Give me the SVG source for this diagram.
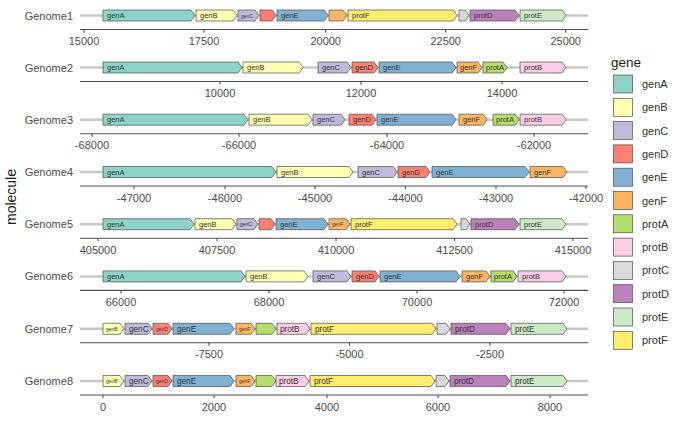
<svg xmlns="http://www.w3.org/2000/svg" width="688" height="422" viewBox="0 0 688 422">
<style>
text{font-family:"Liberation Sans",Arial,sans-serif}
.bg{stroke:#c8c8c8;stroke-width:2.5}
.ax{stroke:#4d4d4d;stroke-width:1.1}
.tk{stroke:#4d4d4d;stroke-width:1.1}
.tl{font-size:11px;fill:#4d4d4d;text-anchor:middle}
.gl{font-size:11px;fill:#4d4d4d;text-anchor:end}
.g polygon{stroke:#4d4d4d;stroke-width:0.7}
.lb{font-size:7.5px;fill:#333}
.lb8{font-size:8.2px;fill:#333}
.sm{font-size:5px;fill:#333}
.A{fill:#8DD3C7}.B{fill:#FFFFB3}.C{fill:#BEBADA}.D{fill:#FB8072}.E{fill:#80B1D3}.F{fill:#FDB462}
.pA{fill:#B3DE69}.pB{fill:#FCCDE5}.pC{fill:#D9D9D9}.pD{fill:#BC80BD}.pE{fill:#CCEBC5}.pF{fill:#FFED6F}
.key rect{stroke:#4d4d4d;stroke-width:0.7}
.kl{font-size:11px;fill:#333}
</style>
<rect width="688" height="422" fill="#fff"/>
<text transform="translate(16,197) rotate(-90)" font-size="14" text-anchor="middle" fill="#1a1a1a">molecule</text>

<g id="Genome1" class="g" transform="translate(0,15.5)">
<text class="gl" x="73" y="4">Genome1</text>
<line class="bg" x1="80" y1="0" x2="588" y2="0"/>
<line class="ax" x1="80" y1="14" x2="588" y2="14"/>
<g class="tk"><line x1="84" y1="14" x2="84" y2="17"/><line x1="204" y1="14" x2="204" y2="17"/><line x1="325.7" y1="14" x2="325.7" y2="17"/><line x1="445.7" y1="14" x2="445.7" y2="17"/><line x1="565.7" y1="14" x2="565.7" y2="17"/></g>
<text class="tl" x="84" y="29.5">15000</text><text class="tl" x="204" y="29.5">17500</text><text class="tl" x="325.7" y="29.5">20000</text><text class="tl" x="445.7" y="29.5">22500</text><text class="tl" x="565.7" y="29.5">25000</text>
<polygon class="A" points="103,-5.5 191,-5.5 195,0 191,5.5 103,5.5"/>
<polygon class="B" points="196,-5.5 233,-5.5 237,0 233,5.5 196,5.5"/>
<polygon class="C" points="238,-5.5 255,-5.5 259,0 255,5.5 238,5.5"/>
<polygon class="D" points="260,-5.5 272,-5.5 276,0 272,5.5 260,5.5"/>
<polygon class="E" points="277,-5.5 324,-5.5 328,0 324,5.5 277,5.5"/>
<polygon class="F" points="329,-5.5 343,-5.5 347,0 343,5.5 329,5.5"/>
<polygon class="pF" points="348,-5.5 453,-5.5 457,0 453,5.5 348,5.5"/>
<polygon class="pC" points="459,-5.5 465,-5.5 469,0 465,5.5 459,5.5"/>
<polygon class="pD" points="470,-5.5 515,-5.5 519,0 515,5.5 470,5.5"/>
<polygon class="pE" points="520,-5.5 562,-5.5 566,0 562,5.5 520,5.5"/>
<text class="lb" x="107" y="2.5">genA</text><text class="lb" x="200" y="2.5">genB</text><text class="sm" x="241" y="2">genC</text><text class="lb" x="281" y="2.5">genE</text><text class="lb" x="352" y="2.5">protF</text><text class="lb" x="474" y="2.5">protD</text><text class="lb" x="524" y="2.5">protE</text>
</g>

<g id="Genome2" class="g" transform="translate(0,67.5)">
<text class="gl" x="73" y="4">Genome2</text>
<line class="bg" x1="80" y1="0" x2="588" y2="0"/>
<line class="ax" x1="80" y1="14" x2="588" y2="14"/>
<g class="tk"><line x1="220" y1="14" x2="220" y2="17"/><line x1="361" y1="14" x2="361" y2="17"/><line x1="502" y1="14" x2="502" y2="17"/></g>
<text class="tl" x="220" y="29.5">10000</text><text class="tl" x="361" y="29.5">12000</text><text class="tl" x="502" y="29.5">14000</text>
<polygon class="A" points="103,-5.5 238,-5.5 242,0 238,5.5 103,5.5"/>
<polygon class="B" points="243,-5.5 299,-5.5 303,0 299,5.5 243,5.5"/>
<polygon class="C" points="318,-5.5 347,-5.5 351,0 347,5.5 318,5.5"/>
<polygon class="D" points="352,-5.5 374,-5.5 378,0 374,5.5 352,5.5"/>
<polygon class="E" points="379,-5.5 452,-5.5 456,0 452,5.5 379,5.5"/>
<polygon class="F" points="457,-5.5 478,-5.5 482,0 478,5.5 457,5.5"/>
<polygon class="pA" points="483,-5.5 503,-5.5 507,0 503,5.5 483,5.5"/>
<polygon class="pB" points="520,-5.5 562,-5.5 566,0 562,5.5 520,5.5"/>
<text class="lb" x="107" y="2.5">genA</text><text class="lb" x="247" y="2.5">genB</text><text class="lb" x="322" y="2.5">genC</text><text class="lb" x="355" y="2.5">genD</text><text class="lb" x="383" y="2.5">genE</text><text class="lb" x="460" y="2.5">genF</text><text class="lb" x="486" y="2.5">protA</text><text class="lb" x="524" y="2.5">protB</text>
</g>

<g id="Genome3" class="g" transform="translate(0,119.7)">
<text class="gl" x="73" y="4">Genome3</text>
<line class="bg" x1="80" y1="0" x2="588" y2="0"/>
<line class="ax" x1="80" y1="14" x2="588" y2="14"/>
<g class="tk"><line x1="92" y1="14" x2="92" y2="17"/><line x1="239" y1="14" x2="239" y2="17"/><line x1="387" y1="14" x2="387" y2="17"/><line x1="534" y1="14" x2="534" y2="17"/></g>
<text class="tl" x="92" y="29.5">-68000</text><text class="tl" x="239" y="29.5">-66000</text><text class="tl" x="387" y="29.5">-64000</text><text class="tl" x="534" y="29.5">-62000</text>
<polygon class="A" points="103,-5.5 244,-5.5 248,0 244,5.5 103,5.5"/>
<polygon class="B" points="249,-5.5 308,-5.5 312,0 308,5.5 249,5.5"/>
<polygon class="C" points="313,-5.5 341,-5.5 345,0 341,5.5 313,5.5"/>
<polygon class="D" points="349,-5.5 372,-5.5 376,0 372,5.5 349,5.5"/>
<polygon class="E" points="377,-5.5 452,-5.5 456,0 452,5.5 377,5.5"/>
<polygon class="F" points="459,-5.5 483,-5.5 487,0 483,5.5 459,5.5"/>
<polygon class="pA" points="493,-5.5 515,-5.5 519,0 515,5.5 493,5.5"/>
<polygon class="pB" points="520,-5.5 562,-5.5 566,0 562,5.5 520,5.5"/>
<text class="lb" x="107" y="2.5">genA</text><text class="lb" x="253" y="2.5">genB</text><text class="lb" x="317" y="2.5">genC</text><text class="lb" x="353" y="2.5">genD</text><text class="lb" x="381" y="2.5">genE</text><text class="lb" x="463" y="2.5">genF</text><text class="lb" x="496" y="2.5">protA</text><text class="lb" x="524" y="2.5">protB</text>
</g>

<g id="Genome4" class="g" transform="translate(0,172)">
<text class="gl" x="73" y="4">Genome4</text>
<line class="bg" x1="80" y1="0" x2="588" y2="0"/>
<line class="ax" x1="80" y1="14" x2="588" y2="14"/>
<g class="tk"><line x1="134" y1="14" x2="134" y2="17"/><line x1="225" y1="14" x2="225" y2="17"/><line x1="315" y1="14" x2="315" y2="17"/><line x1="405.5" y1="14" x2="405.5" y2="17"/><line x1="496" y1="14" x2="496" y2="17"/><line x1="586" y1="14" x2="586" y2="17"/></g>
<text class="tl" x="134" y="29.5">-47000</text><text class="tl" x="225" y="29.5">-46000</text><text class="tl" x="315" y="29.5">-45000</text><text class="tl" x="405.5" y="29.5">-44000</text><text class="tl" x="496" y="29.5">-43000</text><text class="tl" x="586" y="29.5">-42000</text>
<polygon class="A" points="103,-5.5 272,-5.5 276,0 272,5.5 103,5.5"/>
<polygon class="B" points="277,-5.5 349,-5.5 353,0 349,5.5 277,5.5"/>
<polygon class="C" points="358,-5.5 393,-5.5 397,0 393,5.5 358,5.5"/>
<polygon class="D" points="398,-5.5 426,-5.5 430,0 426,5.5 398,5.5"/>
<polygon class="E" points="432,-5.5 525,-5.5 529,0 525,5.5 432,5.5"/>
<polygon class="F" points="530,-5.5 563,-5.5 567,0 563,5.5 530,5.5"/>
<text class="lb" x="107" y="2.5">genA</text><text class="lb" x="281" y="2.5">genB</text><text class="lb" x="362" y="2.5">genC</text><text class="lb" x="402" y="2.5">genD</text><text class="lb" x="436" y="2.5">genE</text><text class="lb" x="534" y="2.5">genF</text>
</g>

<g id="Genome5" class="g" transform="translate(0,224.2)">
<text class="gl" x="73" y="4">Genome5</text>
<line class="bg" x1="80" y1="0" x2="588" y2="0"/>
<line class="ax" x1="80" y1="14" x2="588" y2="14"/>
<g class="tk"><line x1="98" y1="14" x2="98" y2="17"/><line x1="217" y1="14" x2="217" y2="17"/><line x1="336" y1="14" x2="336" y2="17"/><line x1="454.5" y1="14" x2="454.5" y2="17"/><line x1="573" y1="14" x2="573" y2="17"/></g>
<text class="tl" x="98" y="29.5">405000</text><text class="tl" x="217" y="29.5">407500</text><text class="tl" x="336" y="29.5">410000</text><text class="tl" x="454.5" y="29.5">412500</text><text class="tl" x="573" y="29.5">415000</text>
<polygon class="A" points="103,-5.5 190,-5.5 194,0 190,5.5 103,5.5"/>
<polygon class="B" points="195,-5.5 232,-5.5 236,0 232,5.5 195,5.5"/>
<polygon class="C" points="237,-5.5 254,-5.5 258,0 254,5.5 237,5.5"/>
<polygon class="D" points="259,-5.5 271,-5.5 275,0 271,5.5 259,5.5"/>
<polygon class="E" points="276,-5.5 324,-5.5 328,0 324,5.5 276,5.5"/>
<polygon class="F" points="329,-5.5 346,-5.5 350,0 346,5.5 329,5.5"/>
<polygon class="pF" points="351,-5.5 453,-5.5 457,0 453,5.5 351,5.5"/>
<polygon class="pC" points="461,-5.5 466,-5.5 470,0 466,5.5 461,5.5"/>
<polygon class="pD" points="471,-5.5 515,-5.5 519,0 515,5.5 471,5.5"/>
<polygon class="pE" points="520,-5.5 562,-5.5 566,0 562,5.5 520,5.5"/>
<text class="lb" x="107" y="2.5">genA</text><text class="lb" x="199" y="2.5">genB</text><text class="sm" x="240" y="2">genC</text><text class="lb" x="280" y="2.5">genE</text><text class="sm" x="332" y="2">genF</text><text class="lb" x="355" y="2.5">protF</text><text class="lb" x="475" y="2.5">protD</text><text class="lb" x="524" y="2.5">protE</text>
</g>

<g id="Genome6" class="g" transform="translate(0,276.4)">
<text class="gl" x="73" y="4">Genome6</text>
<line class="bg" x1="80" y1="0" x2="588" y2="0"/>
<line class="ax" x1="80" y1="14" x2="588" y2="14"/>
<g class="tk"><line x1="121" y1="14" x2="121" y2="17"/><line x1="269" y1="14" x2="269" y2="17"/><line x1="417" y1="14" x2="417" y2="17"/><line x1="564" y1="14" x2="564" y2="17"/></g>
<text class="tl" x="121" y="29.5">66000</text><text class="tl" x="269" y="29.5">68000</text><text class="tl" x="417" y="29.5">70000</text><text class="tl" x="564" y="29.5">72000</text>
<polygon class="A" points="103,-5.5 241,-5.5 245,0 241,5.5 103,5.5"/>
<polygon class="B" points="246,-5.5 304,-5.5 308,0 304,5.5 246,5.5"/>
<polygon class="C" points="313,-5.5 347,-5.5 351,0 347,5.5 313,5.5"/>
<polygon class="D" points="352,-5.5 375,-5.5 379,0 375,5.5 352,5.5"/>
<polygon class="E" points="380,-5.5 456,-5.5 460,0 456,5.5 380,5.5"/>
<polygon class="F" points="462,-5.5 486,-5.5 490,0 486,5.5 462,5.5"/>
<polygon class="pA" points="491,-5.5 513,-5.5 517,0 513,5.5 491,5.5"/>
<polygon class="pB" points="518,-5.5 562,-5.5 566,0 562,5.5 518,5.5"/>
<text class="lb" x="107" y="2.5">genA</text><text class="lb" x="250" y="2.5">genB</text><text class="lb" x="317" y="2.5">genC</text><text class="lb" x="356" y="2.5">genD</text><text class="lb" x="384" y="2.5">genE</text><text class="lb" x="466" y="2.5">genF</text><text class="lb" x="494" y="2.5">protA</text><text class="lb" x="522" y="2.5">protB</text>
</g>

<g id="Genome7" class="g" transform="translate(0,328.8)">
<text class="gl" x="73" y="4">Genome7</text>
<line class="bg" x1="80" y1="0" x2="588" y2="0"/>
<line class="ax" x1="80" y1="14" x2="588" y2="14"/>
<g class="tk"><line x1="209" y1="14" x2="209" y2="17"/><line x1="349.5" y1="14" x2="349.5" y2="17"/><line x1="490" y1="14" x2="490" y2="17"/></g>
<text class="tl" x="209" y="29.5">-7500</text><text class="tl" x="349.5" y="29.5">-5000</text><text class="tl" x="490" y="29.5">-2500</text>
<polygon class="B" points="103,-5.5 120,-5.5 124,0 120,5.5 103,5.5"/>
<polygon class="C" points="125,-5.5 148,-5.5 152,0 148,5.5 125,5.5"/>
<polygon class="D" points="153,-5.5 168,-5.5 172,0 168,5.5 153,5.5"/>
<polygon class="E" points="173,-5.5 230,-5.5 234,0 230,5.5 173,5.5"/>
<polygon class="F" points="236,-5.5 251,-5.5 255,0 251,5.5 236,5.5"/>
<polygon class="pA" points="256,-5.5 272,-5.5 276,0 272,5.5 256,5.5"/>
<polygon class="pB" points="277,-5.5 306,-5.5 310,0 306,5.5 277,5.5"/>
<polygon class="pF" points="311,-5.5 432,-5.5 436,0 432,5.5 311,5.5"/>
<polygon class="pC" points="437,-5.5 446,-5.5 450,0 446,5.5 437,5.5"/>
<polygon class="pD" points="451,-5.5 506,-5.5 510,0 506,5.5 451,5.5"/>
<polygon class="pE" points="511,-5.5 563,-5.5 567,0 563,5.5 511,5.5"/>
<text class="sm" x="106" y="2">genB</text><text class="lb8" x="129" y="3">genC</text><text class="sm" x="156" y="2">genD</text><text class="lb8" x="177" y="3">genE</text><text class="sm" x="239" y="2">genF</text><text class="lb8" x="280" y="3">protB</text><text class="lb8" x="315" y="3">protF</text><text class="lb8" x="455" y="3">protD</text><text class="lb8" x="515" y="3">protE</text>
</g>

<g id="Genome8" class="g" transform="translate(0,381)">
<text class="gl" x="73" y="4">Genome8</text>
<line class="bg" x1="80" y1="0" x2="588" y2="0"/>
<line class="ax" x1="80" y1="14" x2="588" y2="14"/>
<g class="tk"><line x1="103" y1="14" x2="103" y2="17"/><line x1="214" y1="14" x2="214" y2="17"/><line x1="327" y1="14" x2="327" y2="17"/><line x1="438" y1="14" x2="438" y2="17"/><line x1="550" y1="14" x2="550" y2="17"/></g>
<text class="tl" x="103" y="29.5">0</text><text class="tl" x="214" y="29.5">2000</text><text class="tl" x="327" y="29.5">4000</text><text class="tl" x="438" y="29.5">6000</text><text class="tl" x="550" y="29.5">8000</text>
<polygon class="B" points="103,-5.5 120,-5.5 124,0 120,5.5 103,5.5"/>
<polygon class="C" points="125,-5.5 148,-5.5 152,0 148,5.5 125,5.5"/>
<polygon class="D" points="153,-5.5 168,-5.5 172,0 168,5.5 153,5.5"/>
<polygon class="E" points="173,-5.5 230,-5.5 234,0 230,5.5 173,5.5"/>
<polygon class="F" points="236,-5.5 251,-5.5 255,0 251,5.5 236,5.5"/>
<polygon class="pA" points="256,-5.5 272,-5.5 276,0 272,5.5 256,5.5"/>
<polygon class="pB" points="276,-5.5 305,-5.5 309,0 305,5.5 276,5.5"/>
<polygon class="pF" points="310,-5.5 431,-5.5 435,0 431,5.5 310,5.5"/>
<polygon class="pC" points="436,-5.5 445,-5.5 449,0 445,5.5 436,5.5"/>
<polygon class="pD" points="450,-5.5 506,-5.5 510,0 506,5.5 450,5.5"/>
<polygon class="pE" points="511,-5.5 563,-5.5 567,0 563,5.5 511,5.5"/>
<text class="sm" x="106" y="2">genB</text><text class="lb8" x="129" y="3">genC</text><text class="sm" x="156" y="2">genD</text><text class="lb8" x="177" y="3">genE</text><text class="sm" x="239" y="2">genF</text><text class="lb8" x="279" y="3">protB</text><text class="lb8" x="314" y="3">protF</text><text class="lb8" x="454" y="3">protD</text><text class="lb8" x="515" y="3">protE</text>
</g>

<g id="legend" class="key">
<text x="611" y="67" font-size="13.5" fill="#1a1a1a">gene</text>
<rect class="A" x="613.5" y="75" width="19" height="18"/><text class="kl" x="642" y="88">genA</text>
<rect class="B" x="613.5" y="98.3" width="19" height="18"/><text class="kl" x="642" y="111.3">genB</text>
<rect class="C" x="613.5" y="121.6" width="19" height="18"/><text class="kl" x="642" y="134.6">genC</text>
<rect class="D" x="613.5" y="144.9" width="19" height="18"/><text class="kl" x="642" y="157.9">genD</text>
<rect class="E" x="613.5" y="168.2" width="19" height="18"/><text class="kl" x="642" y="181.2">genE</text>
<rect class="F" x="613.5" y="191.5" width="19" height="18"/><text class="kl" x="642" y="204.5">genF</text>
<rect class="pA" x="613.5" y="214.8" width="19" height="18"/><text class="kl" x="642" y="227.8">protA</text>
<rect class="pB" x="613.5" y="238.1" width="19" height="18"/><text class="kl" x="642" y="251.1">protB</text>
<rect class="pC" x="613.5" y="261.4" width="19" height="18"/><text class="kl" x="642" y="274.4">protC</text>
<rect class="pD" x="613.5" y="284.7" width="19" height="18"/><text class="kl" x="642" y="297.7">protD</text>
<rect class="pE" x="613.5" y="308" width="19" height="18"/><text class="kl" x="642" y="321">protE</text>
<rect class="pF" x="613.5" y="331.3" width="19" height="18"/><text class="kl" x="642" y="344.3">protF</text>
</g>
</svg>
